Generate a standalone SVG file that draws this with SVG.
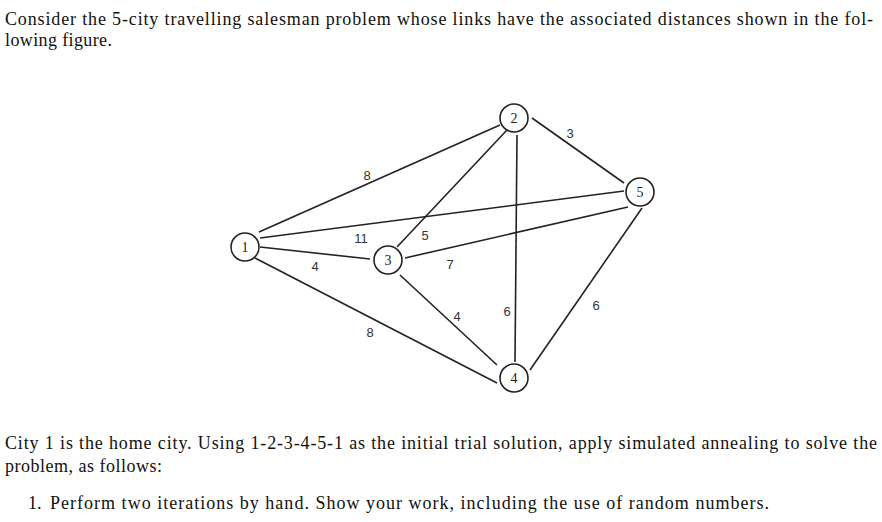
<svg xmlns="http://www.w3.org/2000/svg" width="882" height="522" viewBox="0 0 882 522">
<style>
.t{font-family:"Liberation Serif","DejaVu Serif",serif;font-size:18px;fill:#111}
.n{font-family:"Liberation Serif","DejaVu Serif",serif;font-size:14px;fill:#222;text-anchor:middle}
.l{font-family:"Liberation Sans",Arial,sans-serif;font-size:13px;fill:#333;text-anchor:middle}
line{stroke:#222;stroke-width:1.6}
circle{fill:#fff;stroke:#222;stroke-width:1.6}
</style>
<rect width="882" height="522" fill="#fff"/>
<text class="t" x="5" y="25" textLength="868" lengthAdjust="spacing">Consider the 5-city travelling salesman problem whose links have the associated distances shown in the fol-</text>
<text class="t" x="5" y="46" textLength="107" lengthAdjust="spacing">lowing figure.</text>
<g id="connectors">
<line x1="259" y1="232" x2="500" y2="125"/>
<line x1="260" y1="238" x2="624" y2="191"/>
<line x1="260" y1="247" x2="370" y2="259"/>
<line x1="255" y1="258" x2="497" y2="383"/>
<line x1="507" y1="130" x2="397" y2="247"/>
<line x1="517" y1="135" x2="515" y2="362"/>
<line x1="532" y1="118" x2="624" y2="183"/>
<line x1="405" y1="258" x2="628" y2="207"/>
<line x1="400" y1="275" x2="497" y2="365"/>
<line x1="530" y1="370" x2="642" y2="208"/>
<text class="l" x="367" y="180">8</text>
<text class="l" x="361" y="243">11</text>
<text class="l" x="425" y="240">5</text>
<text class="l" x="315" y="271">4</text>
<text class="l" x="450" y="269">7</text>
<text class="l" x="570" y="138">3</text>
<text class="l" x="370" y="337">8</text>
<text class="l" x="457" y="321">4</text>
<text class="l" x="507" y="316">6</text>
<text class="l" x="596" y="310">6</text>
</g>
<g id="n1"><circle cx="245" cy="247" r="14"/><text class="n" x="245" y="252">1</text></g>
<g id="n2"><circle cx="514" cy="118" r="14"/><text class="n" x="514" y="123">2</text></g>
<g id="n3"><circle cx="388" cy="260" r="14"/><text class="n" x="388" y="265">3</text></g>
<g id="n4"><circle cx="514" cy="378" r="14"/><text class="n" x="514" y="383">4</text></g>
<g id="n5"><circle cx="640" cy="192" r="14"/><text class="n" x="640" y="197">5</text></g>
<text class="t" x="5" y="449" textLength="872" lengthAdjust="spacing">City 1 is the home city. Using 1-2-3-4-5-1 as the initial trial solution, apply simulated annealing to solve the</text>
<text class="t" x="5" y="472" textLength="157" lengthAdjust="spacing">problem, as follows:</text>
<text class="t" x="28" y="509">1.</text>
<text class="t" x="50" y="509" textLength="719" lengthAdjust="spacing">Perform two iterations by hand. Show your work, including the use of random numbers.</text>
</svg>
